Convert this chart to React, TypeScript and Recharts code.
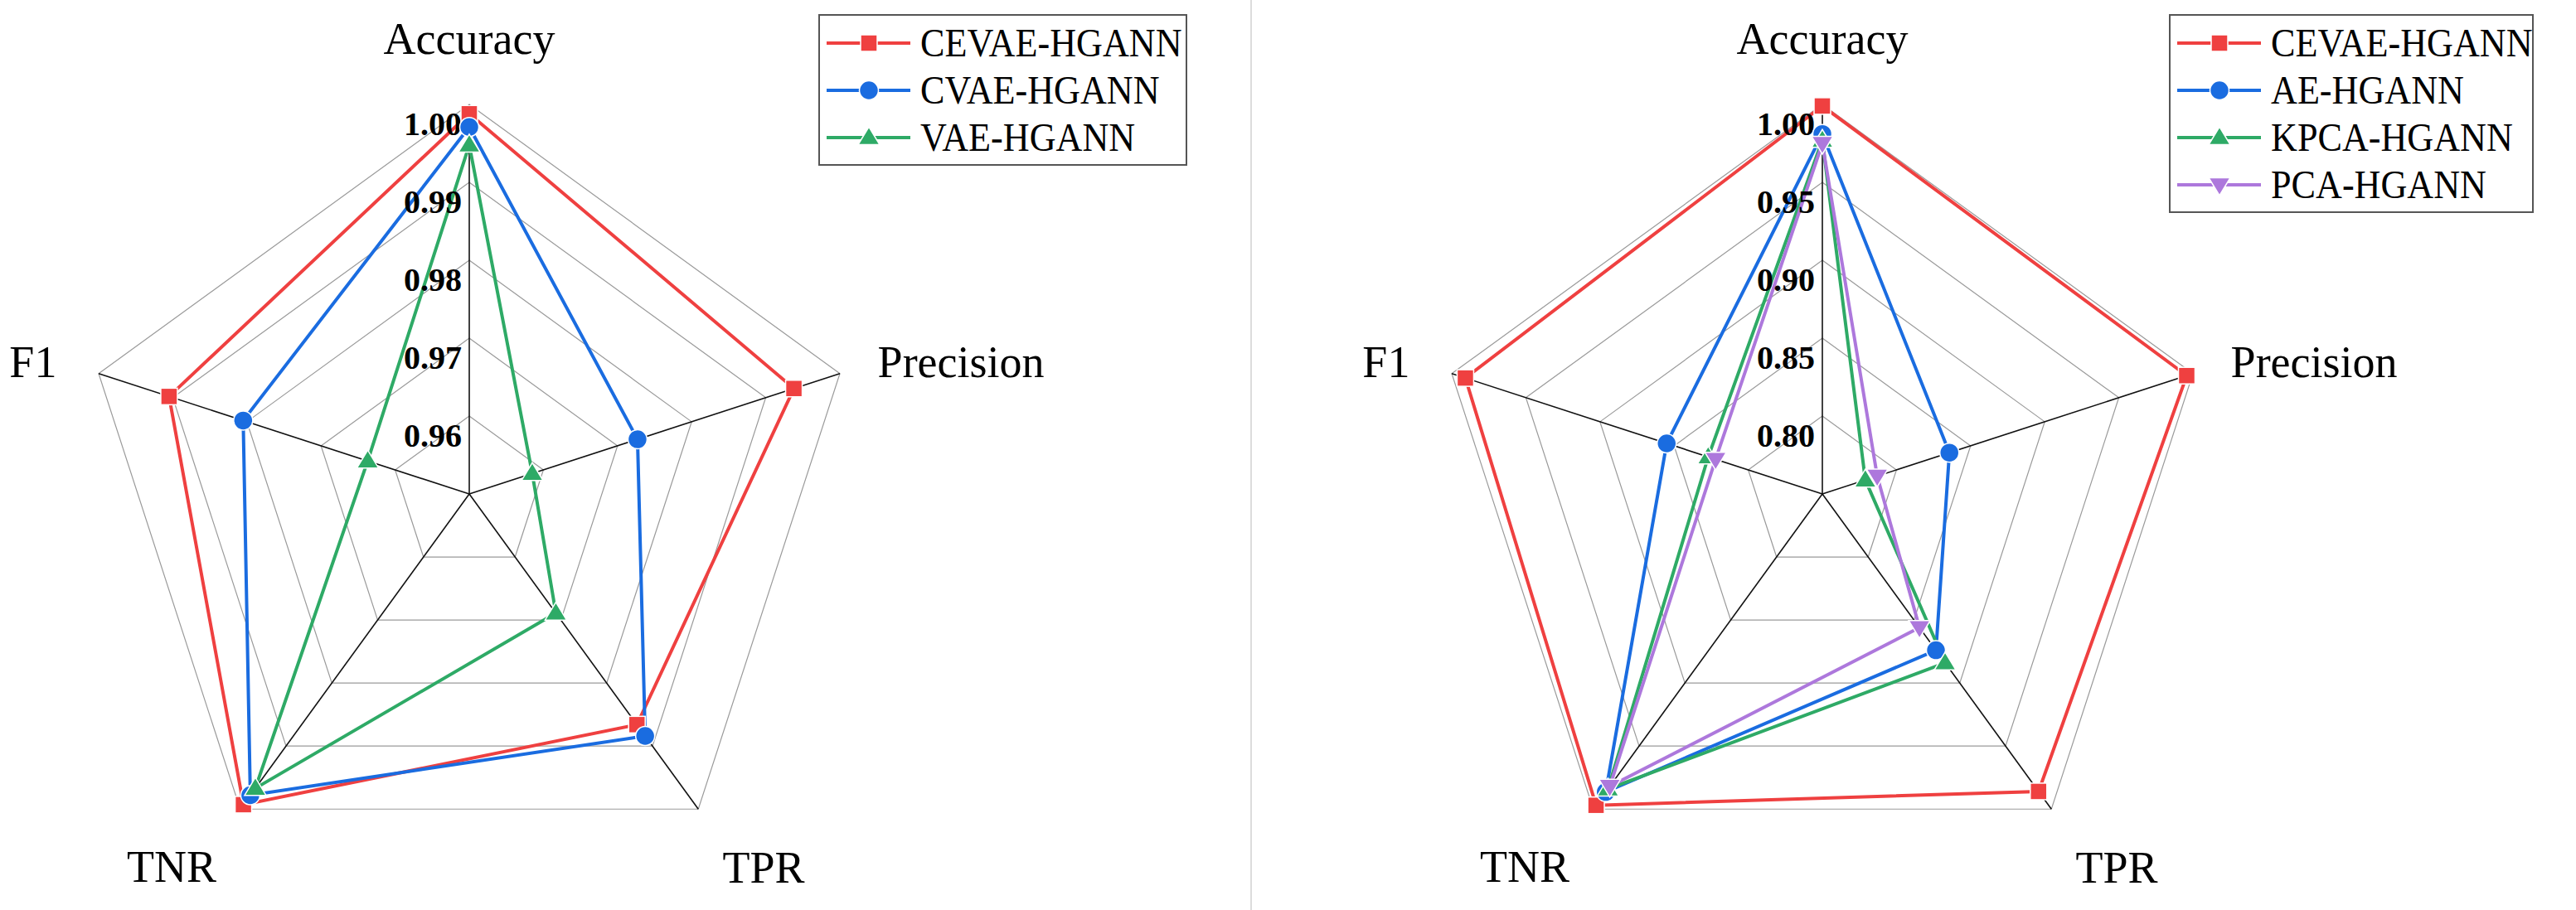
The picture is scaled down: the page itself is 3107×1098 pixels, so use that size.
import React from 'react';
import { RadarChart, Radar, PolarGrid, PolarAngleAxis, PolarRadiusAxis, Legend } from 'recharts';

const metrics = ['Accuracy', 'Precision', 'TPR', 'TNR', 'F1'];

// left panel: variational autoencoder variants
const cevaeLeft = [0.9988, 0.9938, 0.9866, 0.9993, 0.9905];
const cvaeVals = [0.9971, 0.9727, 0.9884, 0.9978, 0.9805];
const vaeVals = [0.9948, 0.9585, 0.9689, 0.9967, 0.9637];

// right panel: other feature extractors
const cevaeRight = [0.999, 0.9958, 0.986, 0.997, 0.9908];
const aeVals = [0.981, 0.8357, 0.874, 0.9864, 0.855];
const kpcaVals = [0.977, 0.779, 0.884, 0.984, 0.827];
const pcaVals = [0.975, 0.787, 0.856, 0.982, 0.822];

const leftDomain: [number, number] = [0.95, 1.0];
const rightDomain: [number, number] = [0.75, 1.0];

const RED = '#ef4040';
const BLUE = '#1a6ce0';
const GREEN = '#2eaa66';
const PURPLE = '#ad78dc';

const FONT = '"Liberation Serif", "Times New Roman", Times, serif';

type Shape = 'square' | 'circle' | 'triangle' | 'triangleDown';

interface Series {
  key: string;
  name: string;
  values: number[];
  color: string;
  shape: Shape;
}

const leftSeries: Series[] = [
  { key: 'cevae', name: 'CEVAE-HGANN', values: cevaeLeft, color: RED, shape: 'square' },
  { key: 'cvae', name: 'CVAE-HGANN', values: cvaeVals, color: BLUE, shape: 'circle' },
  { key: 'vae', name: 'VAE-HGANN', values: vaeVals, color: GREEN, shape: 'triangle' },
];

const rightSeries: Series[] = [
  { key: 'cevae', name: 'CEVAE-HGANN', values: cevaeRight, color: RED, shape: 'square' },
  { key: 'ae', name: 'AE-HGANN', values: aeVals, color: BLUE, shape: 'circle' },
  { key: 'kpca', name: 'KPCA-HGANN', values: kpcaVals, color: GREEN, shape: 'triangle' },
  { key: 'pca', name: 'PCA-HGANN', values: pcaVals, color: PURPLE, shape: 'triangleDown' },
];

const buildRows = (series: Series[]) =>
  metrics.map((m, i) => {
    const row: any = { metric: m };
    series.forEach((s) => {
      row[s.key] = s.values[i];
    });
    return row;
  });

function Marker({ cx, cy, shape, color }: { cx: number; cy: number; shape: Shape; color: string }) {
  const common = { fill: color, stroke: '#fff', strokeWidth: 1.5 };
  if (shape === 'square') return <rect x={cx - 10} y={cy - 10} width={20} height={20} {...common} />;
  if (shape === 'circle') return <circle cx={cx} cy={cy} r={11.5} {...common} />;
  if (shape === 'triangle')
    return <polygon points={`${cx},${cy - 13} ${cx - 13},${cy + 8.5} ${cx + 13},${cy + 8.5}`} {...common} />;
  return <polygon points={`${cx - 13},${cy - 8.5} ${cx + 13},${cy - 8.5} ${cx},${cy + 13}`} {...common} />;
}

const renderDot = (shape: Shape, color: string) => (props: any) => {
  if (props.cx == null || props.cy == null) return <g key={`${shape}-${props.index}`} />;
  return (
    <g key={`${shape}-${props.index}`}>
      <Marker cx={props.cx} cy={props.cy} shape={shape} color={color} />
    </g>
  );
};

// label offsets from the tick point that recharts gives (just outside each vertex)
const labelPlacement = [
  { dx: 0, dy: -53, anchor: 'middle' },
  { dx: 38, dy: 7, anchor: 'start' },
  { dx: 74, dy: 82, anchor: 'middle' },
  { dx: -78, dy: 81, anchor: 'middle' },
  { dx: -43, dy: 7, anchor: 'end' },
];

const AngleTick = (props: any) => {
  const { x, y, payload, index } = props;
  const p = labelPlacement[index] || { dx: 0, dy: 0, anchor: 'middle' };
  return (
    <text x={x + p.dx} y={y + p.dy} textAnchor={p.anchor} fontFamily={FONT} fontSize={54} fill="#000">
      {payload.value}
    </text>
  );
};

const RadiusTick = (props: any) => {
  const { x, y, payload, min } = props;
  if (Math.abs(payload.value - min) < 1e-9) return null;
  return (
    <text x={x - 9} y={y + 37} textAnchor="end" fontFamily={FONT} fontSize={40} fontWeight="bold" fill="#000">
      {Number(payload.value).toFixed(2)}
    </text>
  );
};

const ROW_H = 57;

const LegendBox = ({ payload, series, boxWidth }: any) => {
  const entries = (payload || []).slice().sort(
    (a: any, b: any) =>
      series.findIndex((s: Series) => s.name === a.value) - series.findIndex((s: Series) => s.name === b.value),
  );
  const boxHeight = entries.length * ROW_H + 12;
  return (
    <svg width={boxWidth} height={boxHeight} style={{ display: 'block', overflow: 'visible' }}>
      <rect x={1} y={1} width={boxWidth - 2} height={boxHeight - 2} fill="#fff" stroke="#555" strokeWidth={2} />
      {entries.map((entry: any, i: number) => {
        const s: Series | undefined = series.find((it: Series) => it.name === entry.value);
        const color = s ? s.color : entry.color;
        const y = 35 + i * ROW_H;
        return (
          <g key={entry.value}>
            <line x1={10} y1={y} x2={111} y2={y} stroke={color} strokeWidth={4} />
            {s && <Marker cx={61} cy={y} shape={s.shape} color={color} />}
            <text
              transform={`translate(123 ${y + 16}) scale(0.92 1)`}
              fontFamily={FONT}
              fontSize={48}
              fill="#000"
            >
              {entry.value}
            </text>
          </g>
        );
      })}
    </svg>
  );
};

function Panel({
  series,
  domain,
  width,
  cx,
  legendLeft,
  legendWidth,
}: {
  series: Series[];
  domain: [number, number];
  width: number;
  cx: number;
  legendLeft: number;
  legendWidth: number;
}) {
  const data = buildRows(series);
  return (
    <RadarChart
      width={width}
      height={1098}
      data={data}
      cx={cx}
      cy={596}
      outerRadius={470}
      startAngle={90}
      endAngle={-270}
      margin={{ top: 0, right: 0, bottom: 0, left: 0 }}
    >
      <PolarGrid gridType="polygon" radialLines={false} stroke="#9a9a9a" strokeWidth={1.2} />
      <PolarGrid gridType="polygon" polarRadius={[]} stroke="#111" strokeWidth={1.6} />
      <PolarAngleAxis dataKey="metric" tick={<AngleTick />} axisLine={false} tickLine={false} />
      <PolarRadiusAxis
        angle={90}
        type="number"
        domain={domain}
        tickCount={6}
        allowDecimals={true}
        axisLine={false}
        tickLine={false}
        tick={<RadiusTick min={domain[0]} />}
      />
      {series.map((s) => (
        <Radar
          key={s.key}
          name={s.name}
          dataKey={s.key}
          stroke={s.color}
          strokeWidth={4}
          fill="none"
          fillOpacity={0}
          dot={renderDot(s.shape, s.color)}
          isAnimationActive={false}
        />
      ))}
      <Legend
        layout="vertical"
        align="right"
        verticalAlign="top"
        content={<LegendBox series={series} boxWidth={legendWidth} />}
        wrapperStyle={{ left: legendLeft, top: 17, right: 'auto', width: legendWidth }}
      />
    </RadarChart>
  );
}

export default function App() {
  return (
    <div style={{ position: 'absolute', left: 0, top: 0, width: 3107, height: 1098, background: '#fff', overflow: 'hidden' }}>
      <div style={{ position: 'absolute', left: 0, top: 0 }}>
        <Panel series={leftSeries} domain={leftDomain} width={1508} cx={566} legendLeft={987} legendWidth={445} />
      </div>
      <div style={{ position: 'absolute', left: 1508, top: 0, width: 1.5, height: 1098, background: '#dcdcdc' }} />
      <div style={{ position: 'absolute', left: 1510, top: 0 }}>
        <Panel series={rightSeries} domain={rightDomain} width={1597} cx={688} legendLeft={1106} legendWidth={440} />
      </div>
    </div>
  );
}
